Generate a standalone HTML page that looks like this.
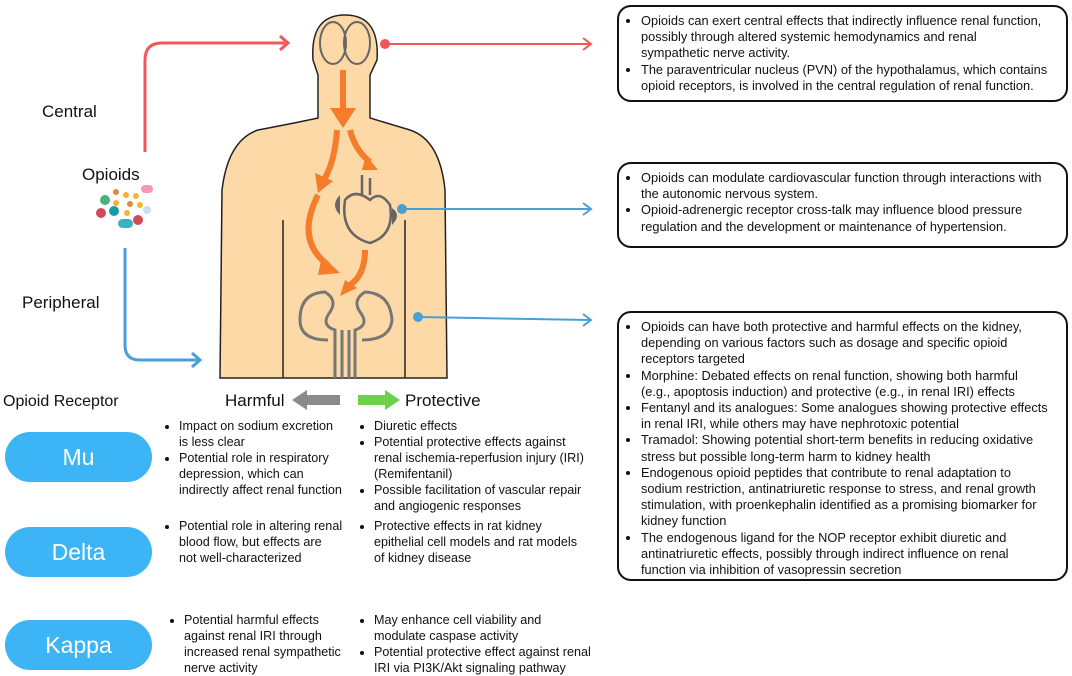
<!DOCTYPE html>
<html><head><meta charset="utf-8"><style>
body{margin:0;width:1072px;height:674px;background:#fff;position:relative;overflow:hidden;font-family:"Liberation Sans",sans-serif;color:#111}
.box{position:absolute;border:2px solid #111;border-radius:14px;box-sizing:border-box;font-size:12.8px;line-height:16.2px;padding:6px 6px 4px 6px;white-space:nowrap}
.box ul,.col ul{margin:0;padding-left:16px}
.box li,.col li{margin:0}
.col{position:absolute;font-size:12.6px;line-height:16px;white-space:nowrap}
.pill{position:absolute;left:5px;width:147px;height:50px;background:#3cb4f5;border-radius:25px;color:#fff;font-size:23px;text-align:center;line-height:50px}
.lbl{position:absolute;font-size:17px}
</style></head><body>
<svg width="1072" height="674" style="position:absolute;left:0;top:0">
<path d="M313 60 Q310 15 345 15 Q380 15 377 60 L370 75 L370 118 Q390 124 410 130 Q440 140 445 190 L447 378 L220 378 L222 190 Q228 140 258 130 Q300 122 318 118 L318 75 Z" fill="#fcd9a6" stroke="#222" stroke-width="1.5"/>
<line x1="283" y1="220" x2="283" y2="378" stroke="#222" stroke-width="1.5"/>
<line x1="405" y1="220" x2="405" y2="378" stroke="#222" stroke-width="1.5"/>
<g fill="none" stroke="#666" stroke-width="2"><ellipse cx="333" cy="43" rx="13" ry="21"/><ellipse cx="357" cy="43" rx="13" ry="21"/></g>
<g fill="none" stroke="#666" stroke-width="2.5"><path d="M345 200 Q340 235 370 243 Q395 235 390 205 Q380 190 370 200 Q355 188 345 200Z"/><line x1="362" y1="195" x2="362" y2="175"/><line x1="370" y1="195" x2="370" y2="178"/></g>
<path d="M340 195 Q330 205 340 215 Z" fill="#666"/><path d="M392 208 Q402 215 392 225 Z" fill="#666"/>
<g fill="none" stroke="#777" stroke-width="3"><path d="M328 340 Q300 340 300 320 Q300 293 325 292 Q338 300 330 312 Q320 325 335 330 L335 378"/><path d="M362 340 Q390 340 392 320 Q390 293 365 292 Q352 300 360 312 Q370 325 355 330 L355 378"/><line x1="342" y1="330" x2="342" y2="378"/><line x1="349" y1="330" x2="349" y2="378"/></g>
<g fill="none" stroke="#f47c2a" stroke-width="6"><line x1="343" y1="70" x2="343" y2="108"/><path d="M337 130 Q335 160 325 178"/><path d="M350 130 Q355 150 370 162"/><path d="M318 195 Q295 240 328 265"/><path d="M365 250 Q365 275 350 285"/></g>
<g fill="#f47c2a"><path d="M330 108 L356 108 L343 128Z"/><path d="M315 173 L333 181 L318 193Z"/><path d="M366 155 L378 170 L362 170Z"/><path d="M322 256 L340 273 L318 275Z"/><path d="M345 280 L357 288 L340 296Z"/></g>
<g fill="none" stroke-width="3"><path d="M145 152 L145 60 Q145 43 162 43 L285 43" stroke="#f0585a"/><path d="M280 36 L288 43 L280 50" stroke="#f0585a"/><path d="M125 248 L125 345 Q125 360 140 360 L198 360" stroke="#4a9fd6"/><path d="M192 353 L200 360 L192 367" stroke="#4a9fd6"/></g>
<g stroke-width="2" fill="none"><line x1="385" y1="44" x2="590" y2="44" stroke="#f0585a"/><path d="M583 38 L591 44 L583 50" stroke="#f0585a"/><line x1="402" y1="209" x2="590" y2="209" stroke="#4a9fd6"/><path d="M583 203 L591 209 L583 215" stroke="#4a9fd6"/><line x1="418" y1="317" x2="590" y2="320" stroke="#4a9fd6"/><path d="M583 314 L591 320 L583 326" stroke="#4a9fd6"/></g>
<circle cx="385" cy="44" r="5" fill="#f0585a"/><circle cx="402" cy="209" r="5" fill="#4a9fd6"/><circle cx="418" cy="317" r="5" fill="#4a9fd6"/>
<g><circle cx="105" cy="200" r="5" fill="#4caf80"/><circle cx="116" cy="192" r="3" fill="#e08a3c"/><circle cx="126" cy="195" r="3" fill="#f5b533"/><circle cx="136" cy="196" r="3" fill="#f5b533"/><circle cx="116" cy="203" r="3" fill="#f5b533"/><circle cx="130" cy="204" r="3" fill="#e08a3c"/><circle cx="140" cy="205" r="3" fill="#f5b533"/><circle cx="114" cy="211" r="5" fill="#1a9aa8"/><circle cx="101" cy="213" r="5" fill="#d24a5a"/><circle cx="127" cy="213" r="3" fill="#f5b533"/><circle cx="138" cy="220" r="5" fill="#d24a5a"/><rect x="118" y="219" width="15" height="9" rx="4.5" fill="#3ab0c0"/><rect x="141" y="185" width="12" height="8" rx="4" fill="#f59ab0"/><circle cx="147" cy="210" r="4" fill="#cde"/></g>
<path d="M292 400 L307 390 L307 395 L340 395 L340 405 L307 405 L307 410Z" fill="#8a8a8a"/>
<path d="M400 400 L385 390 L385 395 L358 395 L358 405 L385 405 L385 410Z" fill="#6fd04a"/>
</svg>
<div class="lbl" style="left:42px;top:102px">Central</div>
<div class="lbl" style="left:82px;top:165px">Opioids</div>
<div class="lbl" style="left:22px;top:293px">Peripheral</div>
<div class="lbl" style="left:3px;top:393px;font-size:16px">Opioid Receptor</div>
<div class="lbl" style="left:225px;top:391px">Harmful</div>
<div class="lbl" style="left:405px;top:391px">Protective</div>
<div class="box" style="left:617px;top:5px;width:451px;height:97px"><ul><li>Opioids can exert central effects that indirectly influence renal function,<br>possibly through altered systemic hemodynamics and renal<br>sympathetic nerve activity.</li><li>The paraventricular nucleus (PVN) of the hypothalamus, which contains<br>opioid receptors, is involved in the central regulation of renal function.</li></ul></div>
<div class="box" style="left:617px;top:162px;width:451px;height:86px"><ul><li>Opioids can modulate cardiovascular function through interactions with<br>the autonomic nervous system.</li><li>Opioid-adrenergic receptor cross-talk may influence blood pressure<br>regulation and the development or maintenance of hypertension.</li></ul></div>
<div class="box" style="left:617px;top:311px;width:451px;height:270px"><ul><li>Opioids can have both protective and harmful effects on the kidney,<br>depending on various factors such as dosage and specific opioid<br>receptors targeted</li><li>Morphine: Debated effects on renal function, showing both harmful<br>(e.g., apoptosis induction) and protective (e.g., in renal IRI) effects</li><li>Fentanyl and its analogues: Some analogues showing protective effects<br>in renal IRI, while others may have nephrotoxic potential</li><li>Tramadol: Showing potential short-term benefits in reducing oxidative<br>stress but possible long-term harm to kidney health</li><li>Endogenous opioid peptides that contribute to renal adaptation to<br>sodium restriction, antinatriuretic response to stress, and renal growth<br>stimulation, with proenkephalin identified as a promising biomarker for<br>kidney function</li><li>The endogenous ligand for the NOP receptor exhibit diuretic and<br>antinatriuretic effects, possibly through indirect influence on renal<br>function via inhibition of vasopressin secretion</li></ul></div>
<div class="pill" style="top:432px">Mu</div>
<div class="pill" style="top:527px">Delta</div>
<div class="pill" style="top:620px">Kappa</div>
<div class="col" style="left:163px;top:418px"><ul><li>Impact on sodium excretion<br>is less clear</li><li>Potential role in respiratory<br>depression, which can<br>indirectly affect renal function</li></ul></div>
<div class="col" style="left:358px;top:418px"><ul><li>Diuretic effects</li><li>Potential protective effects against<br>renal ischemia-reperfusion injury (IRI)<br>(Remifentanil)</li><li>Possible facilitation of vascular repair<br>and angiogenic responses</li></ul></div>
<div class="col" style="left:163px;top:518px"><ul><li>Potential role in altering renal<br>blood flow, but effects are<br>not well-characterized</li></ul></div>
<div class="col" style="left:358px;top:518px"><ul><li>Protective effects in rat kidney<br>epithelial cell models and rat models<br>of kidney disease</li></ul></div>
<div class="col" style="left:168px;top:612px"><ul><li>Potential harmful effects<br>against renal IRI through<br>increased renal sympathetic<br>nerve activity</li></ul></div>
<div class="col" style="left:358px;top:612px"><ul><li>May enhance cell viability and<br>modulate caspase activity</li><li>Potential protective effect against renal<br>IRI via PI3K/Akt signaling pathway</li></ul></div>
</body></html>
